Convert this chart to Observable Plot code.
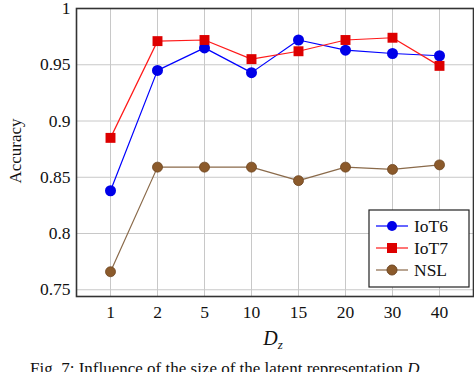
<!DOCTYPE html>
<html><head><meta charset="utf-8">
<script src="https://cdn.jsdelivr.net/npm/d3@7"></script>
<script src="https://cdn.jsdelivr.net/npm/@observablehq/plot@0.6"></script>
<style>
body{margin:0;background:#fff;overflow:hidden;width:474px;height:372px;}
#wrap{position:relative;width:474px;height:372px;overflow:hidden;}
#cap{position:absolute;left:30px;top:359px;font-family:"Liberation Serif",serif;font-size:17px;white-space:nowrap;color:#111;}
#chart svg text{font-family:"Liberation Serif",serif !important;}
</style></head>
<body><div id="wrap"><div id="chart"></div><div id="cap">Fig. 7: Influence of the size of the latent representation <i>D</i><sub style="font-size:11px">z</sub></div></div>
<script>
const dz = ["1","2","5","10","15","20","30","40"];
const iot6 = [0.838,0.945,0.965,0.943,0.972,0.963,0.960,0.958];
const iot7 = [0.885,0.971,0.972,0.955,0.962,0.972,0.974,0.949];
const nsl  = [0.766,0.859,0.859,0.859,0.847,0.859,0.857,0.861];
const yTicks = [0.75,0.8,0.85,0.9,0.95,1];
const seriesNames = ["IoT6","IoT7","NSL"];

const rows = (vals,name)=>dz.map((d,i)=>({dz:d,acc:vals[i],s:name}));
const d6 = rows(iot6,"IoT6"), d7 = rows(iot7,"IoT7"), dn = rows(nsl,"NSL");
const font = '"Liberation Serif", serif';

const plot = Plot.plot({
  width:474, height:350,
  marginLeft:76, marginRight:1, marginTop:8, marginBottom:54,
  style:{fontFamily:font, fontSize:"17.5px", background:"#fff", color:"#111"},
  x:{type:"point", domain:dz, padding:0.7, label:null, tickSize:0, tickPadding:9},
  y:{domain:[0.744,1.0], ticks:yTicks, tickFormat:d=>d===1?"1":String(d), label:null, tickSize:0, tickPadding:6},
  marks:[
    Plot.gridX(dz,{stroke:"#c8c8c8", strokeOpacity:1, strokeWidth:1}),
    Plot.gridY(yTicks,{stroke:"#c8c8c8", strokeOpacity:1, strokeWidth:1}),
    Plot.line(dn,{x:"dz",y:"acc",stroke:"#8a6a4a",strokeWidth:1.2}),
    Plot.dot(dn,{x:"dz",y:"acc",r:5,fill:"#8b5a2b",stroke:"#6e4622",strokeWidth:0.8}),
    Plot.line(d6,{x:"dz",y:"acc",stroke:"#0000ff",strokeWidth:1.2}),
    Plot.dot(d6,{x:"dz",y:"acc",r:5.5,fill:"#0000e8",stroke:"none"}),
    Plot.line(d7,{x:"dz",y:"acc",stroke:"#ff1a1a",strokeWidth:1.2}),
    Plot.dot(d7,{x:"dz",y:"acc",symbol:"square",r:5.6,fill:"#dd0000",stroke:"none"}),
    Plot.frame({stroke:"#333",strokeWidth:1.6})
  ]
});
document.getElementById("chart").appendChild(plot);

const svg = d3.select(plot);
// x axis label D_z
const xl = svg.append("text").attr("x",273).attr("y",345).attr("text-anchor","middle")
  .attr("font-size","20px").attr("fill","#111");
xl.append("tspan").attr("font-style","italic").text("D");
xl.append("tspan").attr("font-style","italic").attr("font-size","13px").attr("dy","4").text("z");
// y axis label
svg.append("text").attr("transform","translate(21,151) rotate(-90)").attr("text-anchor","middle")
  .attr("font-size","17px").attr("fill","#111").text("Accuracy");

// legend
const lg = svg.append("g");
lg.append("rect").attr("x",369).attr("y",210).attr("width",100).attr("height",77)
  .attr("fill","#fff").attr("stroke","#222").attr("stroke-width",1.2);
const cols = [["#0000ff","#0000e8","circle"],["#ff1a1a","#dd0000","square"],["#8a6a4a","#8b5a2b","circle"]];
seriesNames.forEach((n,i)=>{
  const y = 226 + i*22;
  lg.append("line").attr("x1",376).attr("x2",408).attr("y1",y).attr("y2",y).attr("stroke",cols[i][0]).attr("stroke-width",1.2);
  if(cols[i][2]==="circle") lg.append("circle").attr("cx",392).attr("cy",y).attr("r",5).attr("fill",cols[i][1]).attr("stroke",i===2?"#6e4622":"none");
  else lg.append("rect").attr("x",387).attr("y",y-5).attr("width",10).attr("height",10).attr("fill",cols[i][1]);
  lg.append("text").attr("x",414).attr("y",y+6).attr("text-anchor","start").attr("font-size","17.5px").attr("fill","#111").text(n);
});
</script></body></html>
